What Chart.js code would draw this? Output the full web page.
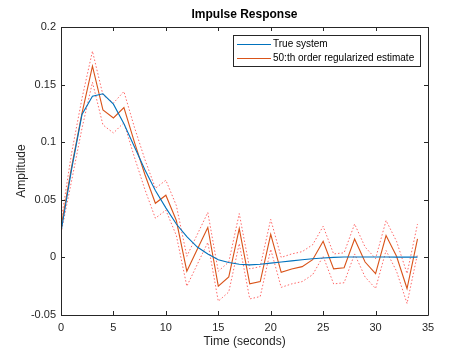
<!DOCTYPE html>
<html>
<head>
<meta charset="utf-8">
<script src="https://cdn.jsdelivr.net/npm/chart.js@4.4.1/dist/chart.umd.min.js"></script>
<style>
  html, body { margin: 0; padding: 0; background: #ffffff; }
  #wrap { width: 474px; height: 355px; position: relative; }
</style>
</head>
<body>
<div id="wrap"><canvas id="c" width="474" height="355"></canvas></div>
<script>
// ---- Data ----
const times = [0,1,2,3,4,5,6,7,8,9,10,11,12,13,14,15,16,17,18,19,20,21,22,23,24,25,26,27,28,29,30,31,32,33,34];
const trueSystem = [0.022,0.076,0.124,0.140,0.142,0.133,0.116,0.096,0.076,0.058,0.043,0.029,0.018,0.009,0.003,-0.002,-0.0045,-0.006,-0.0065,-0.006,-0.005,-0.004,-0.003,-0.002,-0.0012,-0.0005,0.0,0.0003,0.0004,0.0004,0.0003,0.0003,0.0002,0.0002,0.0002];
const estimate = [0.026,0.078,0.125,0.166,0.128,0.121,0.130,0.100,0.072,0.047,0.054,0.032,-0.012,0.007,0.026,-0.025,-0.017,0.025,-0.023,-0.021,0.020,-0.013,-0.010,-0.008,-0.002,0.014,-0.010,-0.009,0.016,-0.004,-0.014,0.019,0.001,-0.027,0.016];
const upperBound = [0.031,0.090,0.138,0.179,0.141,0.134,0.144,0.113,0.085,0.060,0.067,0.045,0.001,0.020,0.039,-0.012,-0.004,0.038,-0.010,-0.008,0.033,0.000,0.003,0.005,0.011,0.027,0.003,0.004,0.029,0.009,-0.001,0.032,0.014,-0.014,0.029];
const lowerBound = [0.021,0.066,0.112,0.152,0.115,0.108,0.117,0.087,0.059,0.034,0.041,0.019,-0.025,-0.006,0.013,-0.038,-0.030,0.012,-0.036,-0.034,0.007,-0.026,-0.023,-0.021,-0.015,0.001,-0.023,-0.022,0.003,-0.017,-0.027,0.006,-0.012,-0.040,0.003];
const xTicks = [0,5,10,15,20,25,30,35];
const yTicks = [-0.05,0,0.05,0.1,0.15,0.2];
const yTickLabels = ["-0.05","0","0.05","0.1","0.15","0.2"];
const seriesLabels = ["True system", "50:th order regularized estimate"];
const titleText = "Impulse Response";
const xLabel = "Time (seconds)";
const yLabel = "Amplitude";

const BLUE = '#0072BD';
const ORANGE = '#D95319';
const RED = 'rgba(255,40,40,0.7)';
const AXIS = '#262626';
const FONT = '"Liberation Sans", Arial, Helvetica, sans-serif';

const pts = arr => times.map((t, i) => ({x: t, y: arr[i]}));

// Plugin: box, inward ticks, title, axis labels, legend
const decor = {
  id: 'decor',
  afterDraw(chart) {
    const ctx = chart.ctx;
    const a = chart.chartArea;
    const xs = chart.scales.x, ys = chart.scales.y;
    ctx.save();
    ctx.strokeStyle = AXIS;
    ctx.lineWidth = 1;
    ctx.beginPath();
    ctx.rect(Math.round(a.left) + 0.5, Math.round(a.top) + 0.5, Math.round(a.right - a.left), Math.round(a.bottom - a.top));
    ctx.stroke();
    const tl = 4;
    ctx.beginPath();
    xTicks.forEach(v => {
      const px = Math.round(xs.getPixelForValue(v)) + 0.5;
      ctx.moveTo(px, a.bottom); ctx.lineTo(px, a.bottom - tl);
      ctx.moveTo(px, a.top); ctx.lineTo(px, a.top + tl);
    });
    yTicks.forEach(v => {
      const py = Math.round(ys.getPixelForValue(v)) + 0.5;
      ctx.moveTo(a.left, py); ctx.lineTo(a.left + tl, py);
      ctx.moveTo(a.right, py); ctx.lineTo(a.right - tl, py);
    });
    ctx.stroke();

    // Title
    ctx.fillStyle = '#000';
    ctx.font = 'bold 12px ' + FONT;
    ctx.textAlign = 'center';
    ctx.textBaseline = 'middle';
    ctx.fillText(titleText, (a.left + a.right) / 2, 15);
    // Axis labels
    ctx.fillStyle = AXIS;
    ctx.font = '12px ' + FONT;
    ctx.fillText(xLabel, (a.left + a.right) / 2, 342);
    ctx.save();
    ctx.translate(22, (a.top + a.bottom) / 2);
    ctx.rotate(-Math.PI / 2);
    ctx.fillText(yLabel, 0, 0);
    ctx.restore();

    // Legend
    const lx = 233, ly = 35, lw = 187, lh = 31;
    ctx.fillStyle = '#fff';
    ctx.fillRect(lx, ly, lw, lh);
    ctx.strokeStyle = AXIS;
    ctx.strokeRect(lx + 0.5, ly + 0.5, lw, lh);
    ctx.font = '10px ' + FONT;
    ctx.textAlign = 'left';
    const ds = chart.data.datasets;
    [0, 1].forEach(i => {
      const yy = ly + 9 + i * 14;
      ctx.strokeStyle = ds[i].borderColor;
      ctx.lineWidth = 1;
      ctx.beginPath();
      ctx.moveTo(237, yy + 0.5); ctx.lineTo(271, yy + 0.5);
      ctx.stroke();
      ctx.fillStyle = '#000';
      ctx.fillText(ds[i].label, 273, yy + 0.5);
    });
    ctx.restore();
  }
};

new Chart(document.getElementById('c'), {
  type: 'line',
  data: {
    datasets: [
      { label: seriesLabels[0], data: pts(trueSystem), borderColor: BLUE, borderWidth: 1.1, pointRadius: 0, tension: 0, order: 1 },
      { label: seriesLabels[1], data: pts(estimate), borderColor: ORANGE, borderWidth: 1.1, pointRadius: 0, tension: 0, order: 2 },
      { label: 'upper', data: pts(upperBound), borderColor: RED, borderWidth: 1, borderDash: [1.5, 2], pointRadius: 0, tension: 0, order: 3 },
      { label: 'lower', data: pts(lowerBound), borderColor: RED, borderWidth: 1, borderDash: [1.5, 2], pointRadius: 0, tension: 0, order: 3 }
    ]
  },
  options: {
    responsive: false,
    animation: false,
    devicePixelRatio: 1,
    layout: { padding: { left: 0, top: 27, right: 46, bottom: 0 } },
    plugins: { legend: { display: false }, title: { display: false }, tooltip: { enabled: false } },
    scales: {
      x: {
        type: 'linear', min: 0, max: 35,
        grid: { display: false, drawTicks: false },
        border: { display: false },
        afterBuildTicks: s => { s.ticks = xTicks.map(v => ({value: v})); },
        afterFit: s => { s.height = 40; },
        ticks: { padding: 6, color: AXIS, font: { family: FONT, size: 11 }, maxRotation: 0, autoSkip: false }
      },
      y: {
        type: 'linear', min: -0.05, max: 0.2,
        grid: { display: false, drawTicks: false },
        border: { display: false },
        afterBuildTicks: s => { s.ticks = yTicks.map(v => ({value: v})); },
        afterFit: s => { s.width = 61; },
        ticks: { padding: 5, color: AXIS, font: { family: FONT, size: 11 }, autoSkip: false,
          callback: (v) => { const i = yTicks.findIndex(t => Math.abs(t - v) < 1e-9); return i >= 0 ? yTickLabels[i] : ''; } }
      }
    }
  },
  plugins: [decor]
});
</script>
</body>
</html>
